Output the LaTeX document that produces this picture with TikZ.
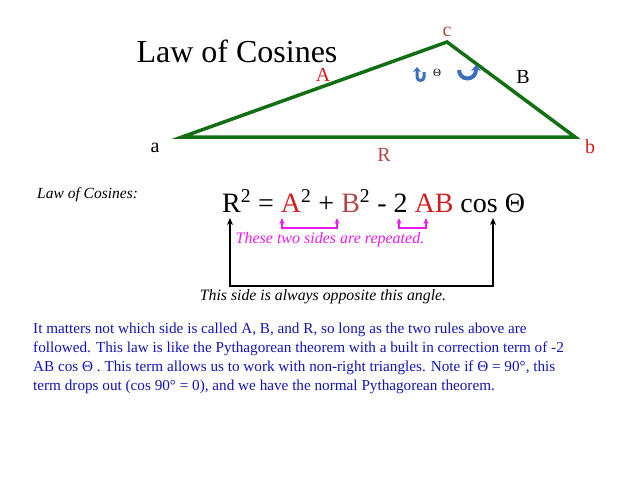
\documentclass[tikz,border=0pt]{standalone}
\usepackage{fontspec}
\setmainfont{Liberation Serif}
\usetikzlibrary{arrows.meta}
\definecolor{tri}{RGB}{20,110,20}
\definecolor{redA}{RGB}{210,30,30}
\definecolor{brn}{RGB}{180,70,70}
\definecolor{mag}{RGB}{230,30,230}
\definecolor{bluep}{RGB}{20,20,180}
\definecolor{iconb}{RGB}{60,110,190}
\tikzset{lbl/.style={inner sep=0pt,font=\fontsize{20}{22}\selectfont},
 para/.style={inner sep=0pt,anchor=west,text=bluep,font=\fontsize{15.2}{17}\selectfont}}
\begin{document}
\begin{tikzpicture}[x=1pt,y=-1pt]
\useasboundingbox (0,0) rectangle (638,479);
\coordinate (va) at (182,137); \coordinate (vc) at (447,42); \coordinate (vb) at (575,137);
\draw[tri,line width=3.5pt,line join=miter] (va)--(vc)--(vb)--cycle;
\node[lbl,font=\fontsize{32}{34}\selectfont] (title) at (237,51) {Law of Cosines};
\node[lbl,text=brn] (lc) at (447,32) {c};
\node[lbl,text=redA] (lA) at (323,75) {A};
\node[lbl] (lB) at (523,77) {B};
\node[lbl] (la) at (155,148) {a};
\node[lbl,text=brn] (lR) at (384,155) {R};
\node[lbl,text=redA] (lb) at (590,147) {b};
\node[inner sep=0pt,font=\fontsize{11}{12}\selectfont] (th) at (437,73) {Θ};
\draw[iconb,line width=3pt,{Stealth[length=5pt,width=8pt]}-] (417,67)--(417,77) arc[start angle=180,end angle=0,radius=3.5]--(424,72);
\draw[iconb,line width=4pt,-{Stealth[length=6pt,width=10pt]}] (459,70) arc[start angle=180,end angle=0,radius=8.5]--(476,65);
\node[inner sep=0pt,anchor=west,font=\itshape\fontsize{15.5}{17}\selectfont] (loc) at (37,195) {Law of Cosines:};
\node[inner sep=0pt,anchor=base west,font=\fontsize{28}{30}\selectfont] (eq) at (222,212)
 {R\textsuperscript{2} = \textcolor{redA}{A}\textsuperscript{2} + \textcolor{brn}{B}\textsuperscript{2} - 2 \textcolor{redA}{AB} cos Θ};
\coordinate (m1) at (282,228); \coordinate (m2) at (337,228);
\coordinate (m3) at (399,228); \coordinate (m4) at (426,228);
\draw[mag,line width=1.2pt,{Stealth[length=6pt,width=5pt]}-{Stealth[length=6pt,width=5pt]}] (282,218)--(m1)--(m2)--(337,218);
\draw[mag,line width=1.2pt,{Stealth[length=6pt,width=5pt]}-{Stealth[length=6pt,width=5pt]}] (399,218)--(m3)--(m4)--(426,218);
\node[inner sep=0pt,text=mag,font=\itshape\fontsize{16}{17}\selectfont] (rep) at (330,240) {These two sides are repeated.};
\coordinate (k1) at (230,286); \coordinate (k2) at (493,286);
\draw[line width=1.2pt,{Stealth[length=7pt,width=6pt]}-{Stealth[length=7pt,width=6pt]}] (230,218)--(k1)--(k2)--(493,218);
\node[inner sep=0pt,font=\itshape\fontsize{15.8}{17}\selectfont] (opp) at (323,297) {This side is always opposite this angle.};
\node[para] (p1) at (33,330) {It matters not which side is called  A, B, and R, so long as the two rules above are};
\node[para] (p2) at (33,349) {followed.  This law is like the Pythagorean theorem with a built in correction term of  -2};
\node[para] (p3) at (33,368) {AB cos Θ .  This term allows us to work with non-right triangles.  Note if Θ = 90°, this};
\node[para] (p4) at (33,387) {term drops out (cos 90° = 0), and we have the normal Pythagorean theorem.};
\end{tikzpicture}
\end{document}
